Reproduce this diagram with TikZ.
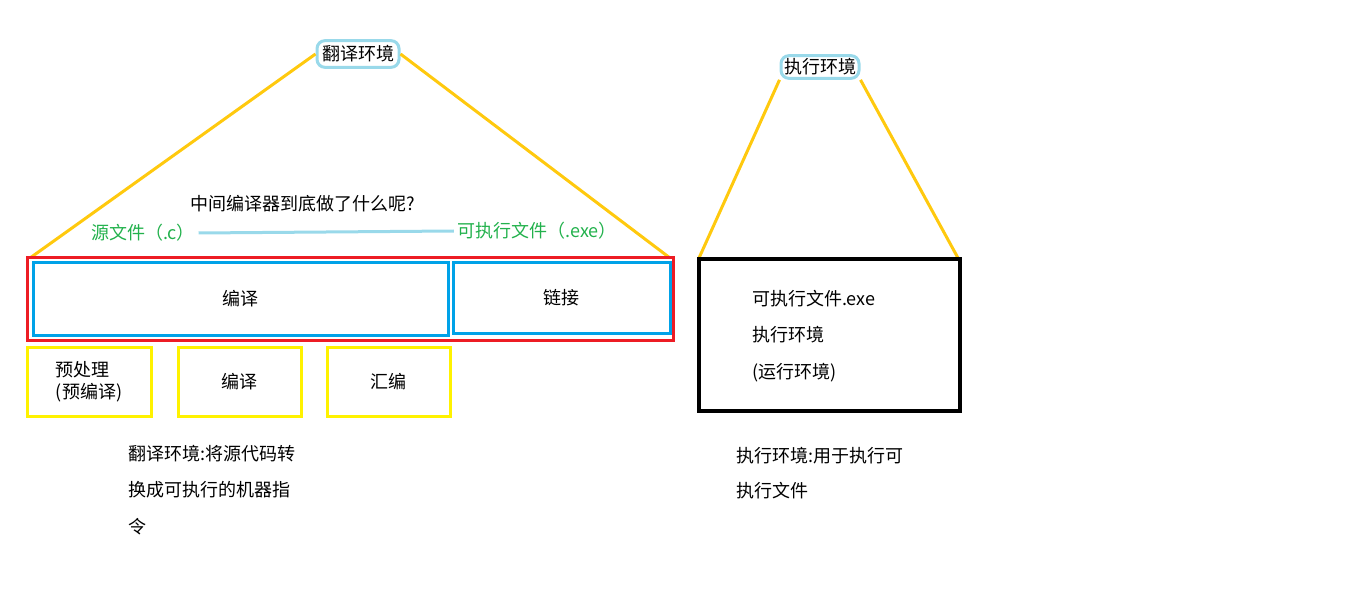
\documentclass[tikz,border=0pt]{standalone}
\usepackage{fontspec}
\setmainfont{Noto Sans CJK SC}
\usetikzlibrary{positioning}
\definecolor{envblue}{HTML}{99D9EA}
\definecolor{lineyellow}{HTML}{FFC90E}
\definecolor{boxyellow}{HTML}{FFF200}
\definecolor{stepblue}{HTML}{00A2E8}
\definecolor{srcgreen}{HTML}{22B14C}
\definecolor{framered}{HTML}{ED1C24}
\tikzset{
  env box/.style={draw=envblue,line width=3pt,rounded corners=8pt,inner sep=5pt},
  fan line/.style={draw=lineyellow,line width=3pt},
  phase box/.style={draw=boxyellow,line width=3pt},
  plain text/.style={anchor=west,inner sep=0pt},
}
\begin{document}
\begin{tikzpicture}[x=1pt,y=-1pt,font=\fontsize{18}{22}\selectfont]
    \useasboundingbox (0,0) rectangle (1360,604);
    % environments
    \node (trans) [env box] at (358,54) {翻译环境};
    \node (exec) [env box,inner sep=3pt] at (820,67) {执行环境};
    \coordinate (tl) at (30,258);
    \coordinate (tr) at (670,258);
    \coordinate (el) at (699,258);
    \coordinate (er) at (958,258);
    \draw [fan line] (trans.west) -- (tl);
    \draw [fan line] (trans.east) -- (tr);
    \draw [fan line] (exec.south west) -- (el);
    \draw [fan line] (exec.south east) -- (er);

    % source to exe
    \node (question) at (303,204) {中间编译器到底做了什么呢?};
    \node (src) [text=srcgreen] at (143,233) {源文件（.c）};
    \node (exe) [text=srcgreen] at (537,231) {可执行文件（.exe）};
    \draw [envblue,line width=3pt] (src.east) -- (exe.west);

    % translation steps
    \draw [framered,line width=3pt] (27,257) rectangle (673,340);
    \node (compile) [draw=stepblue,line width=3pt,minimum width=415pt,minimum height=73pt] at (240.5,298.5) {编译};
    \node (link) [draw=stepblue,line width=3pt,minimum width=217pt,minimum height=71pt] at (561.5,297.5) {链接};
    \node (pre) [phase box,minimum width=124pt,minimum height=69pt,align=left] at (89,381.5) {预处理\\(预编译)};
    \node (comp) [phase box,minimum width=123pt,minimum height=69pt] at (239.5,381.5) {编译};
    \node (asm) [phase box,minimum width=123pt,minimum height=69pt] at (388.5,381.5) {汇编};
    \node (tdesc) [plain text,align=left,font=\fontsize{18}{36.5}\selectfont] at (128,490) {翻译环境:将源代码转\\换成可执行的机器指\\令};

    % execution
    \draw [black,line width=4pt] (699,259) rectangle (960,411);
    \node (run) [plain text,align=left,font=\fontsize{18}{36.5}\selectfont] at (752,336) {可执行文件.exe\\执行环境\\(运行环境)};
    \node (edesc) [plain text,align=left,font=\fontsize{18}{35}\selectfont] at (736,473.5) {执行环境:用于执行可\\执行文件};
\end{tikzpicture}
\end{document}
